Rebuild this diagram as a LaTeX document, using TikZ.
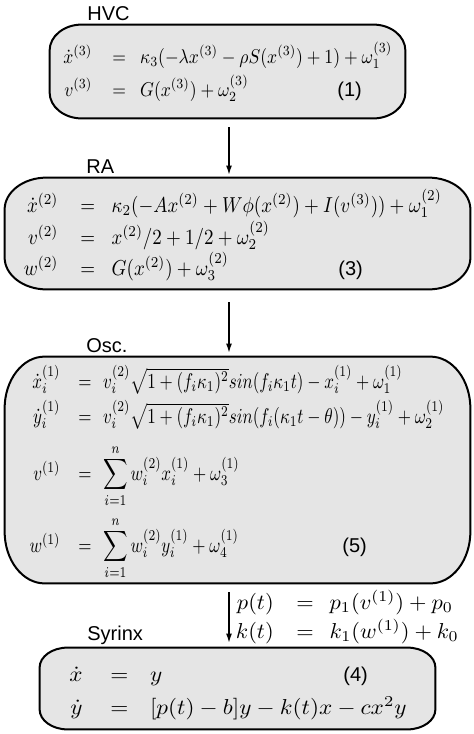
\RequirePackage{fix-cm}
\documentclass[tikz,border=0pt]{standalone}
\usepackage{graphicx}
\usepackage{fontspec}
\newfontfamily\labfont{Liberation Sans}
\usetikzlibrary{arrows.meta,fit}
% row: lhs (right aligned, left of the anchor), =, rhs; scaled by #5 (x) and #6 (y)
\newcommand{\eqrow}[6]{\scalebox{#5}[#6]{\llap{$#1$\hspace{#3}}$=$\hspace{#4}$#2$}}
\newcommand{\softbox}[3]{%
  \draw[boxline] ([xshift=#2]#1.north west) -- ([xshift=-#2]#1.north east)
    arc[start angle=90, end angle=0, x radius=#2, y radius=#3]
    -- ([yshift=#3]#1.south east)
    arc[start angle=0, end angle=-90, x radius=#2, y radius=#3]
    -- ([xshift=#2]#1.south west)
    arc[start angle=270, end angle=180, x radius=#2, y radius=#3]
    -- ([yshift=-#3]#1.north west)
    arc[start angle=180, end angle=90, x radius=#2, y radius=#3] -- cycle;}
\begin{document}
\begin{tikzpicture}[x=0.5pt,y=-0.5pt,
  boxline/.style={line width=1pt, fill=black!10},
  boxnode/.style={inner sep=0pt, draw=none},
  lab/.style={anchor=base west, inner sep=0pt, font=\labfont\fontsize{10}{12}\selectfont},
  eqn/.style={anchor=base west, inner sep=0pt, font=\fontsize{10}{12}\selectfont},
  arr/.style={line width=0.6pt, -{Latex[length=4.5pt,width=3pt]}}]
\useasboundingbox (0,0) rectangle (474,734);
% boxes
\node[boxnode, fit={(50,25) (405,118)}] (hvc) {};
\node[boxnode, fit={(5,178) (470,289)}] (ra) {};
\node[boxnode, fit={(5,357) (470,583)}] (osc) {};
\node[boxnode, fit={(40,648) (435,729)}] (syr) {};
\softbox{hvc}{16pt}{13pt}
\softbox{ra}{21pt}{16pt}
\softbox{osc}{20pt}{26pt}
\softbox{syr}{14pt}{10pt}
% labels
\node[lab] (lhvc) at (87,20) {HVC};
\node[lab] (lra) at (86,173) {RA};
\node[lab] (losc) at (86,352) {Osc.};
\node[lab] (lsyr) at (87,640) {Syrinx};
% HVC
\node[eqn] (h1) at (112,63) {\eqrow{\dot x^{(3)}}{\kappa_3(-\lambda x^{(3)}-\rho S(x^{(3)})+1)+\omega_1^{(3)}}{11.4pt}{8pt}{0.88}{1.0}};
\node[eqn] (h2) at (112,96) {\eqrow{v^{(3)}}{G(x^{(3)})+\omega_2^{(3)}}{11.4pt}{8pt}{0.88}{1.0}};
\node[lab] (n1) at (337,96) {(1)};
% RA
\node[eqn] (r1) at (80,212) {\eqrow{\dot x^{(2)}}{\kappa_2(-Ax^{(2)}+W\phi(x^{(2)})+I(v^{(3)}))+\omega_1^{(2)}}{11.6pt}{8.7pt}{0.95}{1.08}};
\node[eqn] (r2) at (80,244) {\eqrow{v^{(2)}}{x^{(2)}/2+1/2+\omega_2^{(2)}}{11.6pt}{8.7pt}{0.95}{1.08}};
\node[eqn] (r3) at (80,275) {\eqrow{w^{(2)}}{G(x^{(2)})+\omega_3^{(2)}}{11.6pt}{8.7pt}{0.95}{1.08}};
\node[lab] (n3) at (338,275) {(3)};
% Osc
\node[eqn] (o1) at (78,388) {\eqrow{{\dot x_i}^{(1)}}{v_i^{(2)}\sqrt{1+(f_i\kappa_1)^2}sin(f_i\kappa_1t)-x_i^{(1)}+\omega_1^{(1)}}{10.6pt}{6.8pt}{0.85}{1.07}};
\node[eqn] (o2) at (78,423) {\eqrow{{\dot y_i}^{(1)}}{v_i^{(2)}\sqrt{1+(f_i\kappa_1)^2}sin(f_i(\kappa_1t-\theta))-y_i^{(1)}+\omega_2^{(1)}}{10.6pt}{6.8pt}{0.85}{1.07}};
\node[eqn] (o3) at (78,480) {\eqrow{v^{(1)}}{\displaystyle\sum_{i=1}^{n}w_i^{(2)}x_i^{(1)}+\omega_3^{(1)}}{10.6pt}{6.8pt}{0.85}{1.07}};
\node[eqn] (o4) at (78,552) {\eqrow{w^{(1)}}{\displaystyle\sum_{i=1}^{n}w_i^{(2)}y_i^{(1)}+\omega_4^{(1)}}{10.6pt}{6.8pt}{0.85}{1.07}};
\node[lab] (n5) at (342,552) {(5)};
% p,k
\node[eqn] (p1) at (296,609) {\eqrow{p(t)}{p_1(v^{(1)})+p_0}{10.1pt}{7.1pt}{1.12}{1.08}};
\node[eqn] (p2) at (296,638) {\eqrow{k(t)}{k_1(w^{(1)})+k_0}{10.1pt}{7.1pt}{1.12}{1.08}};
% Syrinx
\node[eqn] (s1) at (110,681) {\eqrow{\dot x}{y}{12pt}{9.3pt}{1.16}{1.08}};
\node[eqn] (s2) at (110,714) {\eqrow{\dot y}{[p(t)-b]y-k(t)x-cx^2y}{12pt}{9.3pt}{1.16}{1.08}};
\node[lab] (n4) at (343,681) {(4)};
% arrows
\coordinate (ax) at (229,0);
\draw[arr, shorten <=4.5pt, shorten >=1.5pt] (hvc.south -| ax) -- (ra.north -| ax);
\draw[arr, shorten <=6.5pt, shorten >=2pt] (ra.south -| ax) -- (osc.north -| ax);
\draw[arr, shorten <=4.5pt, shorten >=2.5pt] (osc.south -| ax) -- (syr.north -| ax);
\end{tikzpicture}
\end{document}
